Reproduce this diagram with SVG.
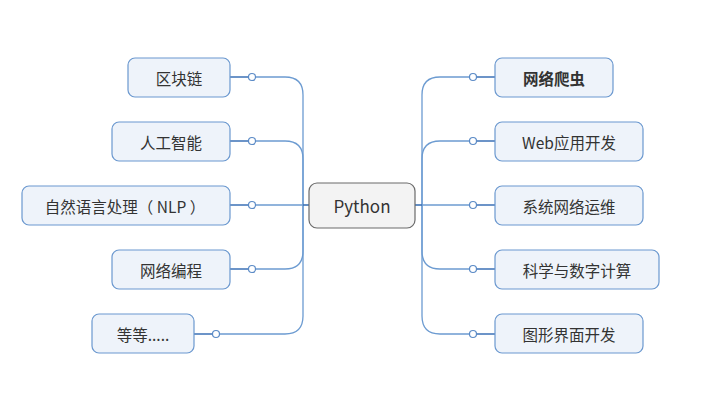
<svg xmlns="http://www.w3.org/2000/svg" width="720" height="406" viewBox="0 0 720 406">
<style>
.n rect{fill:#eef3fa;stroke:#6b98cf;stroke-width:1.2}
.c rect{fill:#f3f3f3;stroke:#6a6a6a;stroke-width:1.2}
text{font-family:"Noto Sans CJK SC","Noto Sans",sans-serif;font-size:15.5px;fill:#333;text-anchor:middle;dominant-baseline:central}
.line{fill:none;stroke:#6c9bd1;stroke-width:1.3}
.stub{fill:none;stroke:#3d72b6;stroke-width:1.6}
.dot{fill:#fff;stroke:#5a8ac6;stroke-width:1.2}
</style>
<rect width="720" height="406" fill="#fff"/>
<g id="connectors">
<path class="line" d="M303,205 V95 Q303,77 285,77 H256"/>
<path class="line" d="M303,205 V159 Q303,141 285,141 H256"/>
<path class="line" d="M303,205 H256"/>
<path class="line" d="M303,205 V251 Q303,269 285,269 H256"/>
<path class="line" d="M303,205 V316 Q303,334 285,334 H220"/>
<path class="stub" d="M303,205 H309"/>
<path class="stub" d="M230,77 H248 M230,141 H248 M230,205 H248 M230,269 H248 M194,334 H212"/>
<circle class="dot" cx="252" cy="77" r="3.5"/>
<circle class="dot" cx="252" cy="141" r="3.5"/>
<circle class="dot" cx="252" cy="205" r="3.5"/>
<circle class="dot" cx="252" cy="269" r="3.5"/>
<circle class="dot" cx="216" cy="334" r="3.5"/>
<path class="line" d="M422,205 V95 Q422,77 440,77 H469"/>
<path class="line" d="M422,205 V159 Q422,141 440,141 H469"/>
<path class="line" d="M422,205 H469"/>
<path class="line" d="M422,205 V251 Q422,269 440,269 H469"/>
<path class="line" d="M422,205 V316 Q422,334 440,334 H469"/>
<path class="stub" d="M415,205 H422"/>
<path class="stub" d="M477,77 H495 M477,141 H495 M477,205 H495 M477,269 H495 M477,334 H495"/>
<circle class="dot" cx="473" cy="77" r="3.5"/>
<circle class="dot" cx="473" cy="141" r="3.5"/>
<circle class="dot" cx="473" cy="205" r="3.5"/>
<circle class="dot" cx="473" cy="269" r="3.5"/>
<circle class="dot" cx="473" cy="334" r="3.5"/>
</g>
<g id="python" class="c"><rect x="309" y="183" width="106" height="45" rx="8"/><text x="362" y="205.5" style="font-size:17px">Python</text></g>
<g id="blockchain" class="n"><rect x="128" y="58" width="102" height="39" rx="7"/><text x="179" y="77.5">区块链</text></g>
<g id="ai" class="n"><rect x="112" y="122" width="118" height="39" rx="7"/><text x="171" y="141.5">人工智能</text></g>
<g id="nlp" class="n"><rect x="22" y="186" width="208" height="39" rx="7"/><text x="125" y="205.5">自然语言处理（ NLP ）</text></g>
<g id="netprog" class="n"><rect x="112" y="250" width="118" height="39" rx="7"/><text x="171" y="269.5">网络编程</text></g>
<g id="etc" class="n"><rect x="92" y="314" width="102" height="39" rx="7"/><text x="143" y="334">等等.....</text></g>
<g id="crawler" class="n"><rect x="495" y="58" width="118" height="39" rx="7"/><text x="554" y="77.5" style="font-weight:bold">网络爬虫</text></g>
<g id="web" class="n"><rect x="495" y="122" width="148" height="39" rx="7"/><text x="569" y="141.5">Web应用开发</text></g>
<g id="ops" class="n"><rect x="495" y="186" width="148" height="39" rx="7"/><text x="569" y="205.5">系统网络运维</text></g>
<g id="sci" class="n"><rect x="495" y="250" width="164" height="39" rx="7"/><text x="577" y="269.5">科学与数字计算</text></g>
<g id="gui" class="n"><rect x="495" y="314" width="148" height="39" rx="7"/><text x="569" y="334">图形界面开发</text></g>
</svg>
